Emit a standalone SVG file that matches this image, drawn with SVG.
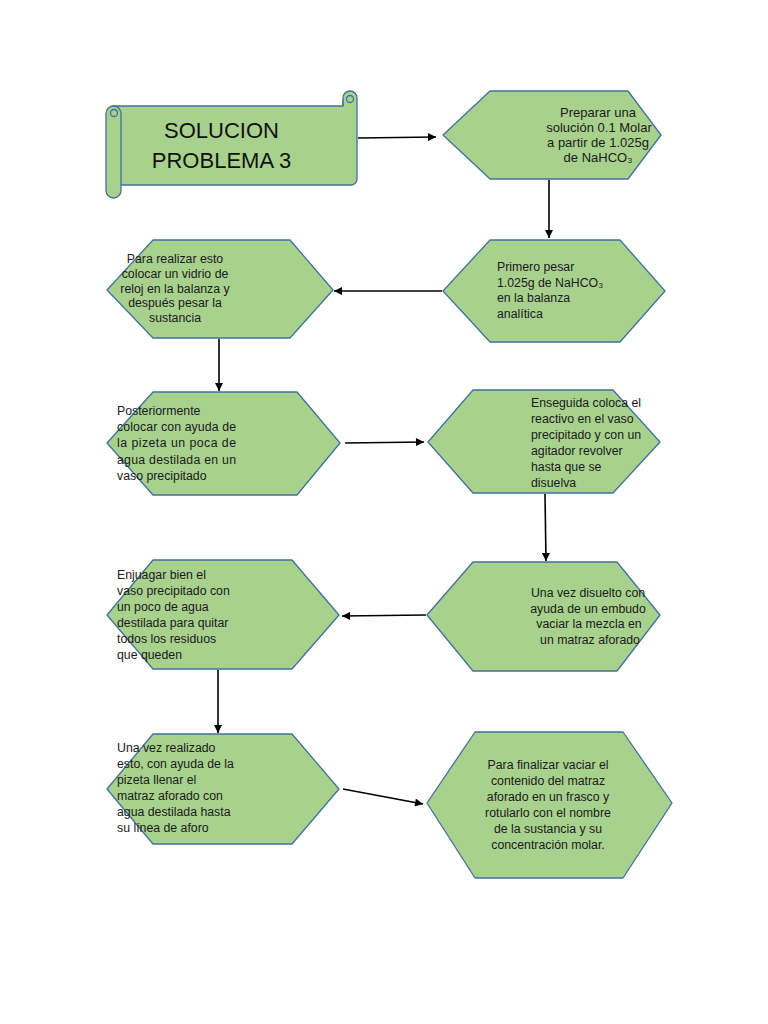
<svg xmlns="http://www.w3.org/2000/svg" width="768" height="1024" viewBox="0 0 768 1024">
<style>
.shape{fill:#a9d18e;stroke:#41719c;stroke-width:1.3;stroke-linejoin:round}
.curl{fill:none;stroke:#41719c;stroke-width:1.3}
.t{font-family:"Liberation Sans",Arial,sans-serif;font-size:12.3px;fill:#1a1a1a}
.c{text-anchor:middle}
.title{font-family:"Liberation Sans",Arial,sans-serif;font-size:22px;fill:#111;text-anchor:middle}
.conn{stroke:#000;stroke-width:1.6;fill:none;marker-end:url(#arr)}
</style>
<defs>
<marker id="arr" viewBox="0 0 10 10" refX="10" refY="5" markerUnits="userSpaceOnUse" markerWidth="9" markerHeight="8" orient="auto">
<path d="M0,0 L10,5 L0,10 z" fill="#000"/>
</marker>
</defs>
<rect width="768" height="1024" fill="#fff"/>

<g id="scroll">
<path class="shape" d="M113,106 L343,106 L343,98 A7,7 0 0 1 357,98 L357,179 A6,6 0 0 1 351,185 L113,185 Z"/>
<circle class="curl" cx="350" cy="99" r="3.5"/>
<path class="curl" d="M343,106 L343,100"/>
<rect class="shape" x="106" y="106" width="15" height="92" rx="7.5" ry="7.5"/>
<circle class="curl" cx="114" cy="113" r="3.5"/>
<text class="title" x="221.5" y="138">SOLUCION</text>
<text class="title" x="221.5" y="168">PROBLEMA 3</text>
</g>

<g id="h1">
<polygon class="shape" points="443,135 490,91 628,91 661,135 628,179 490,179"/>
<text class="t c" style="font-size:13px" x="598" y="117">Preparar una</text>
<text class="t c" style="font-size:13px" x="599" y="132">solución 0.1 Molar</text>
<text class="t c" style="font-size:13px" x="598" y="147">a partir de 1.025g</text>
<text class="t c" style="font-size:13px" x="598" y="162">de NaHCO₃</text>
</g>

<g id="h2">
<polygon class="shape" points="443,291 490,240 620,240 665,291 620,342 490,342"/>
<text class="t" x="497" y="271">Primero pesar</text>
<text class="t" x="497" y="287">1.025g de NaHCO₃</text>
<text class="t" x="497" y="302">en la balanza</text>
<text class="t" x="497" y="318">analítica</text>
</g>

<g id="h3">
<polygon class="shape" points="107,290 153,240 290,240 333,290 290,338 153,338"/>
<text class="t c" x="175" y="263">Para realizar esto</text>
<text class="t c" x="175" y="278">colocar un vidrio de</text>
<text class="t c" x="175" y="293">reloj en la balanza y</text>
<text class="t c" x="175" y="307">después pesar la</text>
<text class="t c" x="175" y="322">sustancia</text>
</g>

<g id="h4">
<polygon class="shape" points="107,443 153,392 297,392 340,443 297,495 153,495"/>
<text class="t" x="117" y="415">Posteriormente</text>
<text class="t" x="117" y="431" textLength="119" lengthAdjust="spacing">colocar con ayuda de</text>
<text class="t" x="117" y="447" textLength="119" lengthAdjust="spacing">la pizeta un poca de</text>
<text class="t" x="117" y="464" textLength="119" lengthAdjust="spacing">agua destilada en un</text>
<text class="t" x="117" y="480">vaso precipitado</text>
</g>

<g id="h5">
<polygon class="shape" points="428,442 473,390 613,390 660,442 613,493 473,493"/>
<text class="t" x="531" y="407">Enseguida coloca el</text>
<text class="t" x="531" y="423">reactivo en el vaso</text>
<text class="t" x="531" y="439">precipitado y con un</text>
<text class="t" x="531" y="455">agitador revolver</text>
<text class="t" x="531" y="471">hasta que se</text>
<text class="t" x="531" y="487">disuelva</text>
</g>

<g id="h6">
<polygon class="shape" points="427,615 473,562 617,562 660,615 617,671 473,671"/>
<text class="t c" x="588" y="597">Una vez disuelto con</text>
<text class="t c" x="588" y="613">ayuda de un embudo</text>
<text class="t c" x="589" y="628">vaciar la mezcla en</text>
<text class="t c" x="590" y="644">un matraz aforado</text>
</g>

<g id="h7">
<polygon class="shape" points="107,615 153,560 292,560 339,615 292,669 153,669"/>
<text class="t" x="117" y="579">Enjuagar bien el</text>
<text class="t" x="117" y="595">vaso precipitado con</text>
<text class="t" x="117" y="611">un poco de agua</text>
<text class="t" x="117" y="627">destilada para quitar</text>
<text class="t" x="117" y="643">todos los residuos</text>
<text class="t" x="117" y="659">que queden</text>
</g>

<g id="h8">
<polygon class="shape" points="107,789 153,734 292,734 339,789 292,844 153,844"/>
<text class="t" x="117" y="752">Una vez realizado</text>
<text class="t" x="117" y="768">esto, con ayuda de la</text>
<text class="t" x="117" y="784">pizeta llenar el</text>
<text class="t" x="117" y="800">matraz aforado con</text>
<text class="t" x="117" y="816">agua destilada hasta</text>
<text class="t" x="117" y="832">su línea de aforo</text>
</g>

<g id="h9">
<polygon class="shape" points="427,803 475,732 623,732 672,803 623,878 475,878"/>
<text class="t c" x="548" y="769">Para finalizar vaciar el</text>
<text class="t c" x="548" y="785">contenido del matraz</text>
<text class="t c" x="548" y="801">aforado en un frasco y</text>
<text class="t c" x="548" y="817">rotularlo con el nombre</text>
<text class="t c" x="548" y="833">de la sustancia y su</text>
<text class="t c" x="548" y="849">concentración molar.</text>
</g>

<g id="connectors">
<line class="conn" x1="358" y1="138" x2="436" y2="137"/>
<line class="conn" x1="549" y1="180" x2="549" y2="238"/>
<line class="conn" x1="442" y1="291" x2="334" y2="291"/>
<line class="conn" x1="219" y1="339" x2="219" y2="391"/>
<line class="conn" x1="345" y1="443" x2="424" y2="442"/>
<line class="conn" x1="545" y1="494" x2="546" y2="561"/>
<line class="conn" x1="426" y1="615" x2="342" y2="616"/>
<line class="conn" x1="218" y1="670" x2="218" y2="733"/>
<line class="conn" x1="343" y1="789" x2="423" y2="804"/>
</g>
</svg>
